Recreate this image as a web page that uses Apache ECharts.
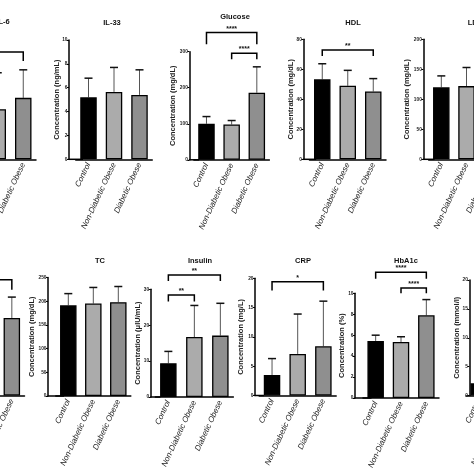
<!DOCTYPE html>
<html><head><meta charset="utf-8">
<script src="https://cdn.jsdelivr.net/npm/echarts@6/dist/echarts.min.js"></script>
<style>html,body{margin:0;padding:0;background:#fff}#c{width:474px;height:474px}</style>
</head><body><div id="c"></div><script>
const categories = ['Control', 'Non-Diabetic Obese', 'Diabetic Obese'];
const barColors = ['#000000', '#ababab', '#8f8f8f'];

// [title, unit, max, interval]
const il6Axis = ['IL-6', 'Concentration (pg/mL)', 10, 2];
const il6Mean = [4.0, 4.2, 5.15];
const il6Upper = [6.0, 7.25, 7.5];
const il6Brackets = [[0, 2, 9.0, 8.25, '']];

const il33Axis = ['IL-33', 'Concentration (ng/mL)', 10, 2];
const il33Mean = [5.2, 5.65, 5.4];
const il33Upper = [6.8, 7.7, 7.5];
const il33Brackets = [];

const gluAxis = ['Glucose', 'Concentration (mg/dL)', 300, 100];
const gluMean = [100, 98, 186];
const gluUpper = [120, 109, 258];
const gluBrackets = [[0, 2, 353, 321, '****'], [1, 2, 296, 279, '****']];

const hdlAxis = ['HDL', 'Concentration (mg/dL)', 80, 20];
const hdlMean = [53.3, 49, 45.2];
const hdlUpper = [63.7, 59.3, 53.8];
const hdlBrackets = [[0, 2, 72.9, 68.9, '**']];

const ldlAxis = ['LDL', 'Concentration (mg/dL)', 200, 50];
const ldlMean = [120, 122, 125];
const ldlUpper = [139, 153, 150];
const ldlBrackets = [];

const blAxis = ['', 'Concentration (pg/mL)', 20, 5];
const blMean = [10, 12, 13.2];
const blUpper = [13, 15, 16.75];
const blBrackets = [[0, 2, 19.7, 18, '**']];

const tcAxis = ['TC', 'Concentration (mg/dL)', 250, 50];
const tcMean = [191.5, 195, 198];
const tcUpper = [216, 229, 231];
const tcBrackets = [];

const insAxis = ['Insulin', 'Concentration (μIU/mL)', 30, 10];
const insMean = [9.4, 16.7, 17.1];
const insUpper = [12.7, 25.5, 26.1];
const insBrackets = [[0, 2, 34, 32.3, '**'], [0, 1, 28.4, 26.6, '**']];

const crpAxis = ['CRP', 'Concentration (mg/L)', 20, 5];
const crpMean = [3.5, 7.1, 8.4];
const crpUpper = [6.3, 13.9, 16.1];
const crpBrackets = [[0, 2, 19.4, 17.9, '*']];

const hbaAxis = ['HbA1c', 'Concentration (%)', 10, 2];
const hbaMean = [5.45, 5.35, 7.9];
const hbaUpper = [6.0, 5.85, 9.4];
const hbaBrackets = [[0, 2, 12.0, 11.4, '****'], [1, 2, 10.5, 10.0, '****']];

const brAxis = ['', 'Concentration (mmol/l)', 20, 5];
const brMean = [2.1, 3.0, 3.5];
const brUpper = [2.5, 3.8, 4.5];
const brBrackets = [];

const panels = [
  {ax: il6Axis, mean: il6Mean, upper: il6Upper, br: il6Brackets, L: {left: -40.5, width: 76.5, off: 6.5, top: 40, base: 159.3, gap: 8.5, tx: -2, ty: 18}},
  {ax: il33Axis, mean: il33Mean, upper: il33Upper, br: il33Brackets, L: {left: 75.75, width: 76.5, off: 6.75, top: 40, base: 159.3, gap: 8.5, tx: 107, ty: 19}},
  {ax: gluAxis, mean: gluMean, upper: gluUpper, br: gluBrackets, L: {left: 193.9, width: 75.5, off: 4.6, top: 51.7, base: 159.8, gap: 12.5, tx: 230, ty: 13}},
  {ax: hdlAxis, mean: hdlMean, upper: hdlUpper, br: hdlBrackets, L: {left: 309.5, width: 76.5, off: 6.2, top: 39.3, base: 159.3, gap: 8.5, tx: 348, ty: 19}},
  {ax: ldlAxis, mean: ldlMean, upper: ldlUpper, br: ldlBrackets, L: {left: 428.7, width: 75.6, off: 5.4, top: 39.3, base: 159.3, gap: 12, tx: 470, ty: 19}},
  {ax: blAxis, mean: blMean, upper: blUpper, br: blBrackets, L: {left: -51.5, width: 76, off: 6, top: 278, base: 395.5, gap: 8.5, tx: -14, ty: 257}},
  {ax: tcAxis, mean: tcMean, upper: tcUpper, br: tcBrackets, L: {left: 55.8, width: 75, off: 7.8, top: 277.5, base: 396, gap: 12.5, tx: 95, ty: 257}},
  {ax: insAxis, mean: insMean, upper: insUpper, br: insBrackets, L: {left: 155.35, width: 78, off: 4.65, top: 289.3, base: 397, gap: 8.5, tx: 195, ty: 257}},
  {ax: crpAxis, mean: crpMean, upper: crpUpper, br: crpBrackets, L: {left: 259.2, width: 77, off: 4.2, top: 278.3, base: 395.5, gap: 10.5, tx: 298, ty: 257}},
  {ax: hbaAxis, mean: hbaMean, upper: hbaUpper, br: hbaBrackets, L: {left: 363, width: 76, off: 8, top: 293.3, base: 398, gap: 9.5, tx: 401, ty: 257}},
  {ax: brAxis, mean: brMean, upper: brUpper, br: brBrackets, L: {left: 466, width: 76, off: -3.3, top: 280, base: 395.5, gap: 8, tx: 508, ty: 257}}
];

const FONT = '"Liberation Sans", Arial, sans-serif';
const option = {animation: false, backgroundColor: '#fff', title: [], grid: [], xAxis: [], yAxis: [], series: []};

panels.forEach((p, i) => {
  const L = p.L;
  option.title.push({text: p.ax[0], left: L.tx, top: L.ty - 5, textAlign: 'center',
    textStyle: {fontSize: 7.5, fontWeight: 'bold', color: '#111', fontFamily: FONT}});
  option.grid.push({left: L.left, top: L.top, width: L.width, height: L.base - L.top,
    containLabel: false, outerBoundsMode: 'none'});
  option.xAxis.push({
    type: 'category', gridIndex: i, data: categories,
    axisLine: {lineStyle: {color: '#000', width: 1.5}, symbol: ['rect', 'none'], symbolSize: [1.5, Math.max(0, 2 * L.off + 1)]},
    axisTick: {alignWithLabel: true, length: 3, lineStyle: {color: '#000', width: 1}},
    axisLabel: {rotate: 65, fontSize: 8, fontStyle: 'italic', color: '#222', margin: 4, interval: 0, fontFamily: FONT, hideOverlap: false}
  });
  option.yAxis.push({
    type: 'value', gridIndex: i, min: 0, max: p.ax[2], interval: p.ax[3], offset: L.off,
    name: p.ax[1], nameLocation: 'middle', nameGap: L.gap, nameRotate: 90, nameMoveOverlap: false,
    nameTextStyle: {fontSize: 7.5, fontWeight: 'bold', color: '#222', fontFamily: FONT},
    axisLine: {show: true, lineStyle: {color: '#000', width: 1.5}},
    axisTick: {show: true, length: 2, lineStyle: {color: '#000', width: 1}},
    axisLabel: {fontSize: 4.8, fontWeight: 'bold', color: '#222', margin: 1.5, fontFamily: FONT},
    splitLine: {show: false}
  });
  option.series.push({
    type: 'bar', xAxisIndex: i, yAxisIndex: i, barWidth: 16.5, z: 3,
    data: p.mean.map((v, j) => ({value: v, itemStyle: {color: barColors[j]}})),
    itemStyle: {borderColor: '#000', borderWidth: 1.3}
  });
  option.series.push({
    type: 'custom', xAxisIndex: i, yAxisIndex: i, z: 2,
    encode: {x: 0, y: 1},
    data: p.mean.map((v, j) => [j, v, p.upper[j]]),
    renderItem: function (params, api) {
      const a = api.coord([api.value(0), api.value(1)]);
      const b = api.coord([api.value(0), api.value(2)]);
      return {type: 'group', children: [
        {type: 'line', shape: {x1: a[0], y1: a[1], x2: b[0], y2: b[1]}, style: {stroke: '#555', lineWidth: 1}},
        {type: 'line', shape: {x1: b[0] - 4, y1: b[1], x2: b[0] + 4, y2: b[1]}, style: {stroke: '#111', lineWidth: 1.5}}
      ]};
    }
  });
  if (p.br.length) {
    const brs = p.br;
    option.series.push({
      type: 'custom', xAxisIndex: i, yAxisIndex: i, z: 4, clip: false,
      encode: {x: 0, y: 2},
      data: brs.map(b => [b[0], b[1], b[2], b[3]]),
      renderItem: function (params, api) {
        const f = api.value(0), t = api.value(1), y = api.value(2), yd = api.value(3);
        const a = api.coord([f, y]), b = api.coord([t, y]);
        const ad = api.coord([f, yd]), bd = api.coord([t, yd]);
        return {type: 'group', children: [
          {type: 'polyline', shape: {points: [ad, a, b, bd]}, style: {stroke: '#000', lineWidth: 1.5, fill: null}},
          {type: 'text', x: (a[0] + b[0]) / 2, y: a[1] - 0.5,
           style: {text: brs[params.dataIndex][4], align: 'center', verticalAlign: 'bottom', fill: '#111', font: 'bold 7px "Liberation Sans", sans-serif'}}
        ]};
      }
    });
  }
});

const chart = echarts.init(document.getElementById('c'), null, {renderer: 'canvas'});
chart.setOption(option);
</script></body></html>
